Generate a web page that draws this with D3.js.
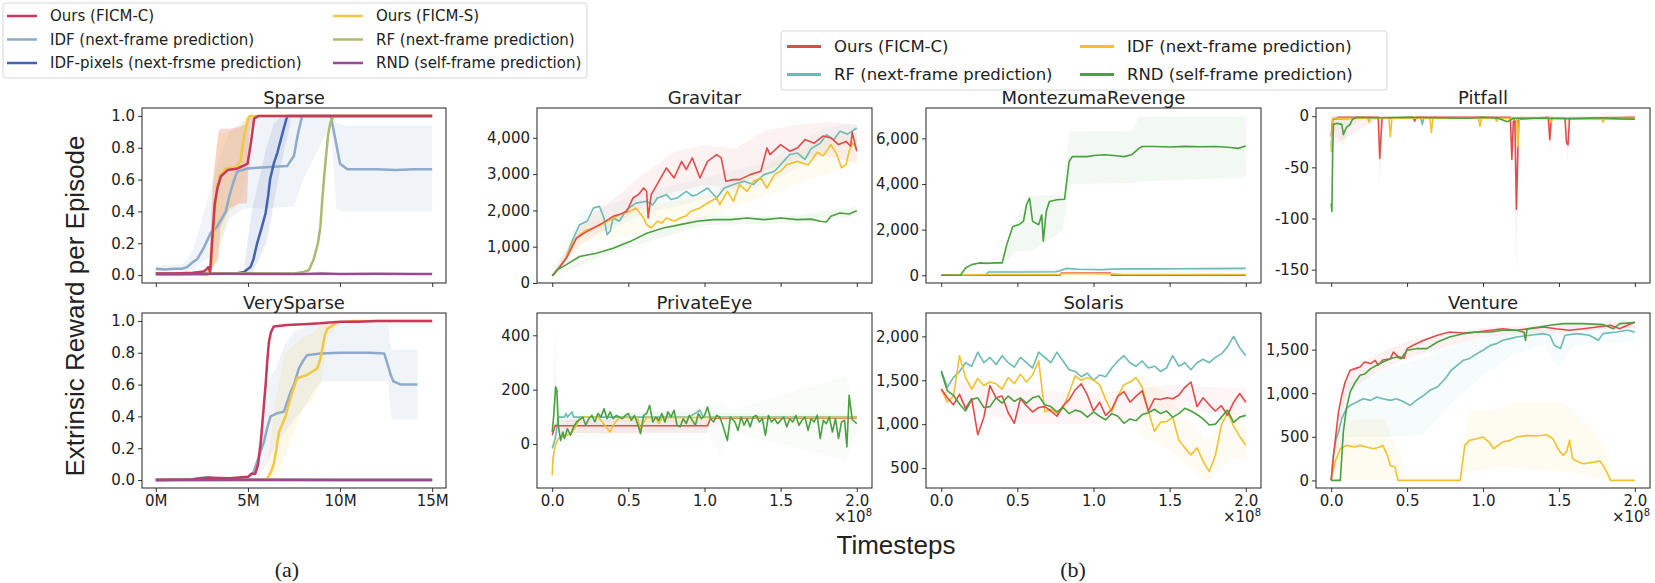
<!DOCTYPE html>
<html>
<head>
<meta charset="utf-8">
<script src="https://cdn.jsdelivr.net/npm/d3@7"></script>
<style>
body { margin: 0; background: #fff; }
text { font-family: "DejaVu Sans", sans-serif; fill: #222; }
</style>
</head>
<body>
<svg id="fig" width="1655" height="583"></svg>
<script>
// ---------- (a) panels : x in millions of steps ----------
var mTicks = [0, 5, 10, 15];
var unitTicks = [0, 0.2, 0.4, 0.6, 0.8, 1.0];

var sparseFicmC = [[0,0.01],[1,0.01],[2,0.015],[2.5,0.02],[2.7,0.03],[2.85,0.05],[2.95,0.02],[3.07,0.24],[3.2,0.45],[3.35,0.55],[3.53,0.62],[3.9,0.66],[4.44,0.67],[4.8,0.69],[4.98,0.7],[5.16,0.83],[5.34,0.985],[5.6,1.0],[15,1.0]];
var sparseFicmS = [[0,0.005],[1,0.0],[2,0.005],[2.8,0.0],[3.0,0.05],[3.15,0.3],[3.3,0.55],[3.5,0.63],[3.8,0.67],[4.4,0.68],[4.6,0.72],[4.8,0.88],[5.0,0.98],[5.1,1.0],[15,1.0]];
var sparseIdf = [[0,0.04],[0.5,0.035],[1.0,0.04],[1.4,0.04],[1.7,0.05],[2.0,0.08],[2.25,0.1],[2.6,0.17],[2.98,0.265],[3.3,0.3],[3.6,0.36],[3.8,0.4],[4.0,0.5],[4.2,0.58],[4.42,0.65],[4.98,0.67],[5.5,0.675],[6.4,0.68],[7.13,0.685],[7.5,0.75],[7.7,0.88],[7.94,1.0],[9.5,1.0],[9.75,0.85],[10.0,0.7],[10.4,0.665],[11,0.665],[12,0.665],[13,0.66],[14,0.665],[15,0.665]];
var sparseIdfPix = [[0,0.01],[2,0.01],[4.4,0.012],[4.8,0.02],[5.14,0.05],[5.3,0.1],[5.5,0.2],[5.75,0.3],[5.96,0.39],[6.1,0.5],[6.2,0.6],[6.4,0.7],[6.6,0.77],[6.85,0.88],[7.13,1.0],[15,1.0]];
var sparseRf = [[0,0.01],[4,0.012],[7.5,0.01],[8.0,0.02],[8.3,0.03],[8.57,0.1],[8.8,0.2],[8.93,0.3],[9.05,0.5],[9.2,0.7],[9.35,0.88],[9.48,0.96],[9.66,1.0],[15,1.0]];
var sparseRnd = [[0,0.005],[2,0.006],[4,0.008],[6,0.007],[8,0.006],[9,0.01],[10,0.006],[12,0.008],[14,0.006],[15,0.007]];
var sparseBandIdf = [[0,0.02,0.06],[1.5,0.02,0.07],[2.0,0.03,0.15],[2.5,0.08,0.35],[3.0,0.12,0.55],[3.5,0.2,0.75],[4.0,0.35,0.9],[4.5,0.4,0.95],[5.0,0.42,0.98],[6.0,0.42,1.0],[7.5,0.43,1.0],[8.0,0.6,1.0],[9.5,0.95,1.0],[9.8,0.42,0.96],[10.2,0.4,0.94],[15,0.4,0.94]];
var sparseBandFicmC = [[2.9,0.0,0.05],[3.1,0.05,0.6],[3.4,0.1,0.9],[3.5,0.3,0.92],[4.0,0.42,0.92],[4.5,0.45,0.93],[4.95,0.45,0.95],[5.1,0.9,1.0],[5.3,0.98,1.0]];
var sparseBandFicmS = [[2.9,0.0,0.05],[3.1,0.05,0.55],[3.4,0.15,0.88],[4.0,0.4,0.9],[4.6,0.45,0.93],[4.9,0.6,1.0],[5.1,0.98,1.0]];
var sparseBandIdfPix = [[4.8,0.0,0.05],[5.2,0.0,0.4],[5.6,0.1,0.6],[6.0,0.2,0.8],[6.4,0.45,0.95],[6.8,0.7,1.0],[7.3,0.95,1.0]];

var vsFicmC = [[0,0],[2,0.003],[2.3,0.01],[3,0.015],[4,0.012],[5,0.02],[5.2,0.04],[5.4,0.04],[5.55,0.1],[5.7,0.24],[5.85,0.45],[5.96,0.6],[6.05,0.75],[6.14,0.87],[6.25,0.93],[6.4,0.965],[7.13,0.975],[8.0,0.98],[8.9,0.985],[10,0.995],[11,0.995],[12,1.0],[15,1.0]];
var vsIdf = [[0,0.0],[2,0.005],[2.8,0.02],[3.2,0.01],[4.5,0.01],[5.0,0.02],[5.3,0.05],[5.6,0.15],[5.87,0.24],[6.05,0.33],[6.23,0.4],[6.6,0.42],[6.95,0.43],[7.1,0.48],[7.3,0.55],[7.5,0.6],[7.76,0.7],[8.0,0.75],[8.2,0.785],[8.93,0.795],[10,0.8],[11,0.8],[11.6,0.8],[12.4,0.795],[12.6,0.72],[12.75,0.66],[12.9,0.62],[13.3,0.6],[14.2,0.6]];
var vsFicmS = [[0,0],[5.87,0.0],[6.05,0.01],[6.25,0.05],[6.4,0.1],[6.55,0.2],[6.68,0.3],[7.04,0.4],[7.2,0.47],[7.4,0.55],[7.67,0.64],[8.2,0.66],[8.75,0.7],[8.9,0.75],[9.0,0.8],[9.15,0.9],[9.3,0.95],[9.84,0.99],[10.7,1.0],[15,1.0]];
var vsIdfPix = [[0,0.001],[15,0.001]];
var vsRf = [[0,0.002],[15,0.002]];
var vsRnd = [[0,0.001],[5,0.002],[10,0.001],[15,0.001]];
var vsBandIdf = [[5.5,0.0,0.2],[6.0,0.1,0.6],[6.5,0.22,0.7],[7.0,0.3,0.85],[7.5,0.38,0.93],[8.0,0.45,0.96],[8.5,0.55,0.98],[9.0,0.62,0.98],[11,0.62,0.98],[12.6,0.62,0.98],[12.8,0.38,0.82],[14.2,0.38,0.82]];
var vsBandFicmS = [[6.0,0.0,0.05],[6.5,0.0,0.5],[7.0,0.15,0.8],[7.5,0.3,0.85],[8.0,0.45,0.9],[8.5,0.5,0.92],[9.0,0.62,0.98],[9.3,0.9,1.0],[10,0.98,1.0]];

// ---------- (b) panels : x in units of 1e8 steps ----------
var bTicks = [0, 0.5, 1.0, 1.5, 2.0];

var gravYTicks = [0, 1000, 2000, 3000, 4000];
var gravRed = [[0,200],[0.05,450],[0.094,690],[0.16,1240],[0.22,1400],[0.27,1515],[0.33,1650],[0.4,1837],[0.45,1900],[0.49,1975],[0.53,2340],[0.57,2450],[0.6,2617],[0.62,2525],[0.63,1790],[0.65,2433],[0.7,2800],[0.75,3170],[0.8,2893],[0.85,3350],[0.88,3123],[0.92,3445],[0.97,2893],[1.02,3350],[1.08,3537],[1.11,3445],[1.14,2800],[1.19,2847],[1.23,2847],[1.3,2985],[1.37,3078],[1.41,3720],[1.43,3537],[1.5,3813],[1.56,3630],[1.61,3720],[1.66,3950],[1.72,3850],[1.78,4050],[1.83,3995],[1.88,3813],[1.93,3900],[1.96,3767],[1.97,4150],[2.0,3630]];
var gravTeal = [[0,200],[0.05,450],[0.09,690],[0.13,1150],[0.18,1607],[0.23,1700],[0.27,2065],[0.31,2110],[0.34,1790],[0.36,1330],[0.38,1424],[0.4,1790],[0.44,1700],[0.49,2020],[0.55,2200],[0.62,2250],[0.66,2150],[0.69,2340],[0.75,2433],[0.78,2300],[0.82,2340],[0.88,2525],[0.92,2400],[0.95,2433],[1.02,2617],[1.08,2340],[1.13,2617],[1.19,2710],[1.26,2800],[1.32,2710],[1.39,2985],[1.46,3078],[1.5,3260],[1.56,3537],[1.61,3580],[1.66,3400],[1.7,3700],[1.76,3850],[1.8,4087],[1.85,3950],[1.89,4180],[1.94,4100],[2.0,4270]];
var gravYellow = [[0,200],[0.05,430],[0.09,690],[0.14,1150],[0.18,1330],[0.22,1450],[0.27,1515],[0.32,1600],[0.36,1700],[0.4,1780],[0.44,1880],[0.51,1975],[0.55,2065],[0.6,1790],[0.62,1607],[0.65,1515],[0.69,1700],[0.72,1650],[0.75,1790],[0.8,1700],[0.84,1790],[0.88,1850],[0.91,1975],[0.97,2065],[1.0,2150],[1.04,2250],[1.08,2340],[1.1,2155],[1.15,2525],[1.19,2250],[1.23,2710],[1.28,2525],[1.32,2800],[1.37,2893],[1.41,2617],[1.46,2985],[1.5,3078],[1.54,3260],[1.61,3350],[1.68,3250],[1.74,3600],[1.78,3500],[1.83,3813],[1.87,3537],[1.9,3170],[1.93,3260],[1.95,3630],[1.97,3860],[2.0,3720]];
var gravGreen = [[0,200],[0.04,380],[0.09,500],[0.18,730],[0.29,820],[0.4,960],[0.51,1140],[0.62,1370],[0.73,1515],[0.84,1607],[0.95,1700],[1.06,1745],[1.17,1745],[1.28,1790],[1.39,1745],[1.5,1790],[1.61,1745],[1.7,1760],[1.76,1700],[1.8,1680],[1.83,1837],[1.89,1930],[1.95,1900],[2.0,1990]];
var gravBandRed = [[0,180,220],[0.2,1100,1700],[0.4,1600,2300],[0.6,2100,3000],[0.8,2500,3600],[1.0,2700,3800],[1.2,2600,3700],[1.4,3100,4200],[1.6,3400,4350],[1.8,3500,4450],[2.0,3300,4350]];
var gravBandTeal = [[0,180,220],[0.2,1300,2000],[0.4,1500,2200],[0.6,1900,2500],[1.0,2300,2900],[1.4,2700,3300],[1.8,3600,4300],[2.0,3900,4400]];
var gravBandYellow = [[0,180,220],[0.2,1100,1600],[0.6,1400,2100],[1.0,1800,2400],[1.4,2400,3200],[1.8,3000,4000],[2.0,3300,4100]];
var gravBandGreen = [[0,180,220],[0.4,850,1050],[1.0,1600,1850],[1.6,1650,1850],[2.0,1850,2100]];

var monYTicks = [0, 2000, 4000, 6000];
var monGreen = [[0,0],[0.126,0],[0.16,320],[0.2,465],[0.25,540],[0.3,520],[0.35,540],[0.4,540],[0.43,1340],[0.47,2140],[0.51,2215],[0.54,2360],[0.56,3090],[0.58,3380],[0.6,2360],[0.64,2215],[0.66,2650],[0.67,1490],[0.69,2797],[0.71,3235],[0.76,3310],[0.81,3330],[0.84,4985],[0.86,5200],[0.96,5200],[1.0,5250],[1.07,5280],[1.15,5240],[1.2,5200],[1.25,5280],[1.3,5570],[1.32,5640],[1.4,5640],[1.5,5620],[1.6,5650],[1.7,5630],[1.8,5640],[1.9,5600],[1.95,5560],[2.0,5660]];
var monTeal = [[0,0],[0.29,0],[0.31,140],[0.75,150],[0.78,200],[0.82,300],[0.9,260],[1.0,250],[1.05,240],[1.1,260],[1.2,280],[1.4,280],[1.6,285],[1.8,290],[2.0,300]];
var monRed = [[0,0],[0.78,0],[0.79,100],[1.11,100],[1.12,0],[2.0,0]];
var monYellow = [[0,0],[0.3,30],[0.78,40],[0.8,80],[1.12,60],[1.2,30],[2.0,30]];
var monBandGreen = [[0.4,400,700],[0.45,800,1600],[0.5,1050,2600],[0.6,1100,3500],[0.7,1500,3500],[0.8,2000,3500],[0.84,4000,6300],[1.25,4040,6300],[1.3,4110,6950],[2.0,4300,6950]];
var monBandTeal = [[0.3,0,250],[2.0,150,400]];

var pitYTicks = [0, -50, -100, -150];
var pitGreen = [[0,-85],[0.005,-93],[0.01,-34],[0.015,-8],[0.04,-7],[0.07,-8],[0.08,-18],[0.1,-11],[0.125,-8],[0.14,-3],[0.17,-1],[0.3,-1.5],[0.5,-1],[0.7,-1.5],[0.9,-2],[1.0,-1],[1.1,-2],[1.16,-5.5],[1.2,-2],[1.4,-2],[1.6,-2.5],[1.8,-1.5],[1.9,-2.5],[2.0,-3]];
var pitRed = [[0,-20],[0.01,-3],[0.05,-1],[0.31,-1],[0.32,-41],[0.335,-2],[0.54,-1],[0.55,-5],[0.56,-1],[1.18,-1],[1.19,-42],[1.2,-5],[1.21,-5],[1.22,-91],[1.235,-3],[1.43,-1],[1.44,-23],[1.45,-2],[1.54,-2],[1.55,-26],[1.56,-28],[1.57,-2],[2.0,-1]];
var pitYellow = [[0,-35],[0.01,-2],[0.24,-2],[0.25,-6],[0.26,-2],[0.38,-2],[0.39,-20],[0.4,-2],[0.65,-2],[0.66,-16],[0.67,-2],[0.97,-2],[0.98,-10],[0.99,-2],[1.08,-2],[1.09,-5],[1.1,-2],[1.22,-2],[1.23,-30],[1.24,-2],[1.44,-2],[1.45,-6],[1.46,-2],[1.78,-2],[1.79,-6],[1.8,-2],[2.0,-2]];
var pitTeal = [[0,-30],[0.01,-3],[0.2,-2],[0.59,-2],[0.6,-8],[0.61,-2],[1.2,-2],[1.22,-7],[1.24,-2],[2.0,-3]];
var pitBandRed = [[0,-30,0],[0.3,-3,0],[0.32,-70,0],[0.34,-3,0],[1.18,-3,0],[1.19,-70,0],[1.2,-10,0],[1.22,-155,0],[1.24,-3,0],[1.43,-3,0],[1.44,-40,0],[1.46,-3,0],[1.54,-3,0],[1.555,-48,0],[1.57,-3,0],[2.0,-3,0]];
var pitBandGreen = [[0,-100,-10],[0.02,-15,0],[0.08,-30,0],[0.12,-10,0],[0.2,-4,0],[2.0,-5,0]];

var pvYTicks = [0, 200, 400];
var pvGreen = [[0,44],[0.01,105],[0.022,210],[0.03,200],[0.04,69],[0.055,13],[0.07,44],[0.08,20],[0.1,56],[0.12,32],[0.14,63],[0.16,81],[0.18,90],[0.2,99],[0.22,69],[0.24,93],[0.26,105],[0.28,81],[0.3,112],[0.32,99],[0.34,130],[0.36,93],[0.38,118],[0.4,93],[0.42,105],[0.44,99],[0.46,93],[0.48,105],[0.5,112],[0.52,87],[0.54,105],[0.56,75],[0.58,38],[0.6,105],[0.62,112],[0.64,142],[0.66,81],[0.68,99],[0.7,87],[0.72,112],[0.74,81],[0.76,118],[0.78,99],[0.8,124],[0.82,69],[0.84,63],[0.86,93],[0.88,75],[0.9,105],[0.92,87],[0.94,69],[0.96,112],[0.98,93],[1.0,105],[1.02,136],[1.04,93],[1.06,81],[1.08,105],[1.1,99],[1.12,69],[1.15,13],[1.17,99],[1.2,81],[1.22,50],[1.24,99],[1.26,69],[1.28,93],[1.3,63],[1.32,99],[1.34,105],[1.36,81],[1.38,93],[1.4,32],[1.42,105],[1.44,81],[1.46,93],[1.48,75],[1.5,87],[1.52,99],[1.54,63],[1.56,93],[1.58,81],[1.6,105],[1.62,69],[1.64,87],[1.66,99],[1.68,50],[1.7,93],[1.72,81],[1.74,105],[1.76,20],[1.78,87],[1.8,75],[1.82,99],[1.84,44],[1.86,93],[1.88,20],[1.9,81],[1.92,87],[1.935,-11],[1.95,179],[1.97,90],[2.0,75]];
var pvTeal = [[0,-17],[0.02,20],[0.04,99],[0.08,99],[0.09,112],[0.1,99],[0.13,118],[0.14,99],[0.9,99],[0.97,124],[0.99,99],[2.0,99]];
var pvYellow = [[0,-115],[0.005,-54],[0.02,-5],[0.04,20],[0.06,26],[0.1,32],[0.13,44],[0.16,69],[0.18,93],[0.2,99],[0.3,99],[0.33,80],[0.38,44],[0.4,69],[0.44,97],[0.56,97],[0.58,50],[0.6,80],[0.62,97],[0.68,97],[0.7,75],[0.72,97],[2.0,98]];
var pvRed = [[0,32],[0.02,69],[0.03,67],[1.02,67],[1.04,95],[2.0,96]];
var pvBandRed = [[0.03,40,90],[1.02,40,90]];
var pvBandTeal = [[0,-50,50],[0.02,-60,450],[0.04,50,150],[0.1,80,120],[2.0,90,110]];
var pvBandGreen = [[0,20,70],[0.02,150,260],[0.05,-10,40],[0.1,20,90],[1.0,60,140],[1.1,-30,150],[1.2,40,130],[1.93,-60,250],[2.0,40,120]];

var solYTicks = [500, 1000, 1500, 2000];
var solX = [0,0.04,0.08,0.12,0.16,0.2,0.24,0.28,0.32,0.36,0.4,0.44,0.48,0.52,0.56,0.6,0.64,0.68,0.72,0.76,0.8,0.84,0.88,0.92,0.96,1.0,1.04,1.08,1.12,1.16,1.2,1.24,1.28,1.32,1.36,1.4,1.44,1.48,1.52,1.56,1.6,1.64,1.68,1.72,1.76,1.8,1.84,1.88,1.92,1.96,2.0];
var solTeal = [1610,1420,1530,1600,1700,1660,1820,1700,1760,1680,1780,1700,1650,1760,1700,1640,1820,1760,1700,1820,1720,1620,1600,1540,1580,1500,1560,1540,1640,1720,1780,1700,1660,1720,1640,1660,1600,1640,1780,1660,1700,1620,1700,1740,1700,1760,1800,1880,2000,1870,1780];
var solRed = [1400,1300,1220,1340,1180,1290,880,1080,1440,1300,1320,1130,1010,1290,1210,1140,1190,1200,1150,1090,1210,1280,1390,1460,1330,1150,1250,1100,1170,1320,1370,1250,1320,1380,1150,1290,1280,1300,1290,1330,1420,1480,1200,1300,1220,1150,1210,1100,1250,1350,1250];
var solYellow = [1400,1250,1320,1780,1530,1400,1520,1440,1480,1460,1400,1530,1460,1570,1480,1560,1720,1140,1170,1120,1180,1360,1550,1500,1530,1500,1450,1280,1140,1320,1450,1480,1530,1420,1150,920,1020,1030,1080,820,730,650,730,580,460,640,990,1130,980,860,760];
var solGreen = [1600,1380,1330,1230,1150,1280,1300,1190,1200,1300,1240,1320,1260,1300,1240,1300,1320,1220,1200,1140,1190,1120,1160,1140,1080,1140,1090,1050,1120,1090,1010,1060,1040,1110,1130,1170,1120,1150,1080,1120,1180,1150,1110,1060,990,1000,1080,1160,1020,1080,1100];
var solBandYellow = [[1.3,900,1600],[1.5,700,1300],[1.75,350,800],[1.9,600,1250],[2.0,600,950]];
var solBandRed = [[0,1300,1500],[0.5,1000,1400],[1.0,1000,1350],[1.5,1150,1450],[2.0,1100,1400]];

var venYTicks = [0, 500, 1000, 1500];
var venRed = [[0,0],[0.015,287],[0.033,555],[0.048,784],[0.07,976],[0.092,1129],[0.125,1263],[0.158,1282],[0.19,1300],[0.22,1358],[0.26,1340],[0.29,1377],[0.31,1320],[0.34,1380],[0.39,1396],[0.41,1473],[0.44,1420],[0.48,1400],[0.5,1511],[0.54,1550],[0.61,1607],[0.7,1664],[0.78,1702],[0.87,1690],[0.96,1702],[1.05,1722],[1.13,1740],[1.22,1722],[1.31,1740],[1.4,1760],[1.48,1740],[1.57,1722],[1.66,1740],[1.75,1760],[1.84,1779],[1.9,1740],[2.0,1817]];
var venGreen = [[0,0],[0.06,0],[0.08,555],[0.1,823],[0.125,1014],[0.16,1129],[0.19,1205],[0.22,1220],[0.26,1282],[0.3,1320],[0.34,1358],[0.39,1396],[0.43,1415],[0.46,1396],[0.5,1492],[0.56,1511],[0.63,1511],[0.7,1588],[0.78,1645],[0.87,1683],[0.96,1702],[1.05,1702],[1.13,1722],[1.22,1722],[1.27,1700],[1.28,1607],[1.29,1740],[1.37,1760],[1.44,1779],[1.53,1798],[1.66,1798],[1.79,1787],[1.86,1740],[1.9,1798],[2.0,1810]];
var venTeal = [[0,0],[0.015,287],[0.033,478],[0.048,555],[0.07,708],[0.1,823],[0.125,861],[0.17,899],[0.21,937],[0.26,918],[0.3,956],[0.34,937],[0.39,918],[0.43,937],[0.48,899],[0.52,861],[0.56,918],[0.61,976],[0.65,1033],[0.7,1071],[0.73,1129],[0.76,1186],[0.79,1263],[0.83,1320],[0.87,1377],[0.91,1396],[0.96,1454],[1.0,1492],[1.05,1550],[1.09,1569],[1.13,1607],[1.18,1626],[1.22,1645],[1.31,1664],[1.4,1683],[1.44,1664],[1.47,1550],[1.51,1511],[1.54,1664],[1.62,1683],[1.7,1664],[1.76,1607],[1.79,1683],[1.88,1702],[1.95,1722],[2.0,1702]];
var venYellow = [[0,0],[0.025,210],[0.06,363],[0.1,402],[0.15,383],[0.19,402],[0.23,383],[0.28,363],[0.32,383],[0.34,402],[0.37,287],[0.39,172],[0.42,153],[0.44,0],[0.85,0],[0.88,402],[0.91,459],[0.96,478],[1.0,497],[1.04,440],[1.07,363],[1.1,402],[1.13,440],[1.18,459],[1.22,497],[1.29,516],[1.35,510],[1.42,524],[1.46,478],[1.5,344],[1.53,287],[1.55,325],[1.57,459],[1.59,249],[1.63,210],[1.66,191],[1.73,210],[1.77,222],[1.79,172],[1.81,115],[1.84,0],[2.0,0]];
var venBandTeal = [[0,0,0],[0.05,300,800],[0.1,500,1100],[0.2,500,1200],[0.4,500,1300],[0.6,520,1400],[0.8,900,1550],[1.0,1200,1650],[1.2,1450,1700],[1.4,1550,1750],[1.5,1300,1700],[1.6,1550,1750],[2.0,1600,1780]];
var venBandYellow = [[0,0,0],[0.05,0,600],[0.15,0,700],[0.35,0,700],[0.45,0,300],[0.5,0,0],[0.84,0,0],[0.9,100,800],[1.1,150,800],[1.2,150,900],[1.5,100,900],[1.6,100,800],[1.7,50,600],[1.8,0,400],[1.85,0,0],[2.0,0,0]];
var venBandRed = [[0,0,0],[0.1,1000,1250],[0.3,1250,1450],[0.5,1400,1600],[1.0,1650,1750],[2.0,1750,1830]];

// legend labels
var legendA = ["Ours (FICM-C)", "IDF (next-frame prediction)", "IDF-pixels (next-frsme prediction)", "Ours (FICM-S)", "RF (next-frame prediction)", "RND (self-frame prediction)"];
var legendB = ["Ours (FICM-C)", "RF (next-frame prediction)", "IDF (next-frame prediction)", "RND (self-frame prediction)"];

// colours
var cA = { ficmC: "#c8385a", idf: "#8eaacb", idfPix: "#4262b2", ficmS: "#f2c744", rf: "#a9bb6e", rnd: "#9a4a90" };
var cB = { red: "#e34b4b", teal: "#6dbab5", yellow: "#f2c12e", green: "#4aa040" };

var svg = d3.select("#fig");
var clipId = 0;

function pairs(xs, ys) { return xs.map(function(v, i) { return [v, ys[i]]; }); }

function panel(o) {
  var g = svg.append("g").attr("transform", "translate(" + o.x + "," + o.y + ")");
  var x = d3.scaleLinear().domain(o.xd).range([0, o.w]);
  var y = d3.scaleLinear().domain(o.yd).range([o.h, 0]);
  var id = "clip" + (clipId++);
  g.append("clipPath").attr("id", id).append("rect").attr("width", o.w).attr("height", o.h);
  var inner = g.append("g").attr("clip-path", "url(#" + id + ")");

  (o.bands || []).forEach(function(b) {
    inner.append("path").datum(b.data)
      .attr("d", d3.area().x(function(d) { return x(d[0]); }).y0(function(d) { return y(d[1]); }).y1(function(d) { return y(d[2]); }))
      .attr("fill", b.c).attr("opacity", b.a || 0.12);
  });
  o.lines.forEach(function(l) {
    inner.append("path").datum(l.data)
      .attr("d", d3.line().x(function(d) { return x(d[0]); }).y(function(d) { return y(d[1]); }))
      .attr("fill", "none").attr("stroke", l.c).attr("stroke-width", o.lw)
      .attr("stroke-linejoin", "round");
  });

  var xa = g.append("g").attr("transform", "translate(0," + o.h + ")")
    .call(d3.axisBottom(x).tickValues(o.xt).tickSize(4).tickPadding(3)
      .tickFormat(o.xlab ? o.xf : function() { return ""; }));
  var ya = g.append("g")
    .call(d3.axisLeft(y).tickValues(o.yt).tickSize(4).tickPadding(3).tickFormat(o.yf));
  [xa, ya].forEach(function(a) {
    a.select(".domain").remove();
    a.selectAll("line").attr("stroke", "#333");
    a.selectAll("text").attr("font-size", "15px").attr("fill", "#222")
      .attr("font-family", "DejaVu Sans, sans-serif");
  });

  g.append("rect").attr("width", o.w).attr("height", o.h)
    .attr("fill", "none").attr("stroke", "#222").attr("stroke-width", 1);
  g.append("text").attr("x", o.w / 2).attr("y", -4).attr("text-anchor", "middle")
    .attr("font-size", "18px").text(o.title);
  if (o.sci) {
    var t = g.append("text").attr("x", o.w).attr("y", o.h + 34).attr("text-anchor", "end").attr("font-size", "15px");
    t.append("tspan").text("\u00d710");
    t.append("tspan").attr("dy", -6).attr("font-size", "10px").text("8");
  }
}

var fmtA = d3.format(".1f");
var fmtM = function(d) { return d + "M"; };
var fmtB = d3.format(".1f");
var fmtC = d3.format(",");
var fmtP = function(d) { return String(d); };

var colA = { x: 142, w: 304 };
var colsB = [537, 926, 1316];
var wB = 335;
var r1 = 108, r2 = 313, hP = 175;

panel({ x: colA.x, y: r1, w: colA.w, h: hP, xd: [-0.75, 15.75], yd: [-0.05, 1.05], xt: mTicks, yt: unitTicks,
  xf: fmtM, yf: fmtA, xlab: false, lw: 2.5, title: "Sparse",
  bands: [{ data: sparseBandIdf, c: cA.idf, a: 0.13 }, { data: sparseBandFicmC, c: "#e8907a", a: 0.35 }, { data: sparseBandFicmS, c: cA.ficmS, a: 0.15 }, { data: sparseBandIdfPix, c: cA.idfPix, a: 0.13 }],
  lines: [{ data: sparseIdf, c: cA.idf }, { data: sparseIdfPix, c: cA.idfPix }, { data: sparseRf, c: cA.rf }, { data: sparseFicmS, c: cA.ficmS }, { data: sparseFicmC, c: cA.ficmC }, { data: sparseRnd, c: cA.rnd }] });

panel({ x: colA.x, y: r2, w: colA.w, h: hP, xd: [-0.75, 15.75], yd: [-0.05, 1.05], xt: mTicks, yt: unitTicks,
  xf: fmtM, yf: fmtA, xlab: true, lw: 2.5, title: "VerySparse",
  bands: [{ data: vsBandIdf, c: cA.idf, a: 0.13 }, { data: vsBandFicmS, c: cA.ficmS, a: 0.13 }],
  lines: [{ data: vsIdf, c: cA.idf }, { data: vsIdfPix, c: cA.idfPix }, { data: vsRf, c: cA.rf }, { data: vsFicmS, c: cA.ficmS }, { data: vsFicmC, c: cA.ficmC }, { data: vsRnd, c: cA.rnd }] });

var bx = [-0.1, 2.1];
panel({ x: colsB[0], y: r1, w: wB, h: hP, xd: bx, yd: [0, 4820], xt: bTicks, yt: gravYTicks, xf: fmtB, yf: fmtC, xlab: false, lw: 1.6, title: "Gravitar",
  bands: [{ data: gravBandRed, c: cB.red, a: 0.07 }, { data: gravBandTeal, c: cB.teal, a: 0.07 }, { data: gravBandYellow, c: cB.yellow, a: 0.07 }, { data: gravBandGreen, c: cB.green, a: 0.08 }],
  lines: [{ data: gravTeal, c: cB.teal }, { data: gravYellow, c: cB.yellow }, { data: gravRed, c: cB.red }, { data: gravGreen, c: cB.green }] });

panel({ x: colsB[1], y: r1, w: wB, h: hP, xd: bx, yd: [-340, 7330], xt: bTicks, yt: monYTicks, xf: fmtB, yf: fmtC, xlab: false, lw: 1.6, title: "MontezumaRevenge",
  bands: [{ data: monBandGreen, c: cB.green, a: 0.07 }, { data: monBandTeal, c: cB.teal, a: 0.08 }],
  lines: [{ data: monTeal, c: cB.teal }, { data: monRed, c: cB.red }, { data: monYellow, c: cB.yellow }, { data: monGreen, c: cB.green }] });

panel({ x: colsB[2], y: r1, w: wB - 1, h: hP, xd: bx, yd: [-163, 8], xt: bTicks, yt: pitYTicks, xf: fmtB, yf: fmtP, xlab: false, lw: 1.6, title: "Pitfall",
  bands: [{ data: pitBandRed, c: cB.red, a: 0.08 }, { data: pitBandGreen, c: cB.green, a: 0.06 }],
  lines: [{ data: pitTeal, c: cB.teal }, { data: pitRed, c: cB.red }, { data: pitYellow, c: cB.yellow }, { data: pitGreen, c: cB.green }] });

panel({ x: colsB[0], y: r2, w: wB, h: hP, xd: bx, yd: [-162, 482], xt: bTicks, yt: pvYTicks, xf: fmtB, yf: fmtP, xlab: true, sci: true, lw: 1.6, title: "PrivateEye",
  bands: [{ data: pvBandTeal, c: cB.teal, a: 0.06 }, { data: pvBandRed, c: cB.red, a: 0.1 }, { data: pvBandGreen, c: cB.green, a: 0.03 }],
  lines: [{ data: pvTeal, c: cB.teal }, { data: pvRed, c: cB.red }, { data: pvYellow, c: cB.yellow }, { data: pvGreen, c: cB.green }] });

panel({ x: colsB[1], y: r2, w: wB, h: hP, xd: bx, yd: [273, 2266], xt: bTicks, yt: solYTicks, xf: fmtB, yf: fmtC, xlab: true, sci: true, lw: 1.6, title: "Solaris",
  bands: [{ data: solBandRed, c: cB.red, a: 0.05 }, { data: solBandYellow, c: cB.yellow, a: 0.06 }],
  lines: [{ data: pairs(solX, solTeal), c: cB.teal }, { data: pairs(solX, solYellow), c: cB.yellow }, { data: pairs(solX, solRed), c: cB.red }, { data: pairs(solX, solGreen), c: cB.green }] });

panel({ x: colsB[2], y: r2, w: wB - 1, h: hP, xd: bx, yd: [-87, 1920], xt: bTicks, yt: venYTicks, xf: fmtB, yf: fmtC, xlab: true, sci: true, lw: 1.6, title: "Venture",
  bands: [{ data: venBandTeal, c: cB.teal, a: 0.06 }, { data: venBandYellow, c: cB.yellow, a: 0.07 }, { data: venBandRed, c: cB.red, a: 0.08 }],
  lines: [{ data: venTeal, c: cB.teal }, { data: venYellow, c: cB.yellow }, { data: venRed, c: cB.red }, { data: venGreen, c: cB.green }] });

// ---------- legends ----------
function legend(o) {
  var g = svg.append("g");
  g.append("rect").attr("x", o.x).attr("y", o.y).attr("width", o.w).attr("height", o.h)
    .attr("rx", 3).attr("fill", "#fff").attr("stroke", "#d6d6d6");
  o.labels.forEach(function(lab, i) {
    var col = Math.floor(i / o.rows), row = i % o.rows;
    var cy = o.y + o.first + row * o.pitch;
    var hx = o.hx[col];
    g.append("line").attr("x1", hx).attr("x2", hx + o.hl).attr("y1", cy).attr("y2", cy)
      .attr("stroke", o.colors[i]).attr("stroke-width", o.lw);
    g.append("text").attr("x", hx + o.hl + o.gap).attr("y", cy).attr("dy", "0.35em")
      .attr("font-size", o.fs + "px").text(lab);
  });
}
legend({ x: 3, y: 3, w: 584, h: 75, rows: 3, first: 13, pitch: 23.5, hx: [7, 333], hl: 30, gap: 13, fs: 15, lw: 2.5,
  labels: legendA, colors: [cA.ficmC, cA.idf, cA.idfPix, cA.ficmS, cA.rf, cA.rnd] });
legend({ x: 781, y: 31, w: 606, h: 59, rows: 2, first: 15.5, pitch: 28, hx: [787, 1080], hl: 34, gap: 13, fs: 16.5, lw: 3,
  labels: legendB, colors: [cB.red, cB.teal, cB.yellow, cB.green] });

// ---------- figure labels ----------
svg.append("text").attr("transform", "translate(75,306) rotate(-90)").attr("text-anchor", "middle")
  .attr("dy", "0.35em").style("font-family", "Liberation Sans, Arial, sans-serif").attr("font-size", "26px")
  .text("Extrinsic Reward per Episode");
svg.append("text").attr("x", 896).attr("y", 545).attr("text-anchor", "middle").attr("dy", "0.35em")
  .style("font-family", "Liberation Sans, Arial, sans-serif").attr("font-size", "26px").text("Timesteps");
svg.append("text").attr("x", 287).attr("y", 569).attr("text-anchor", "middle").attr("dy", "0.35em")
  .style("font-family", "Liberation Serif, Times New Roman, serif").attr("font-size", "22px").text("(a)");
svg.append("text").attr("x", 1073).attr("y", 569).attr("text-anchor", "middle").attr("dy", "0.35em")
  .style("font-family", "Liberation Serif, Times New Roman, serif").attr("font-size", "22px").text("(b)");
</script>
</body>
</html>
